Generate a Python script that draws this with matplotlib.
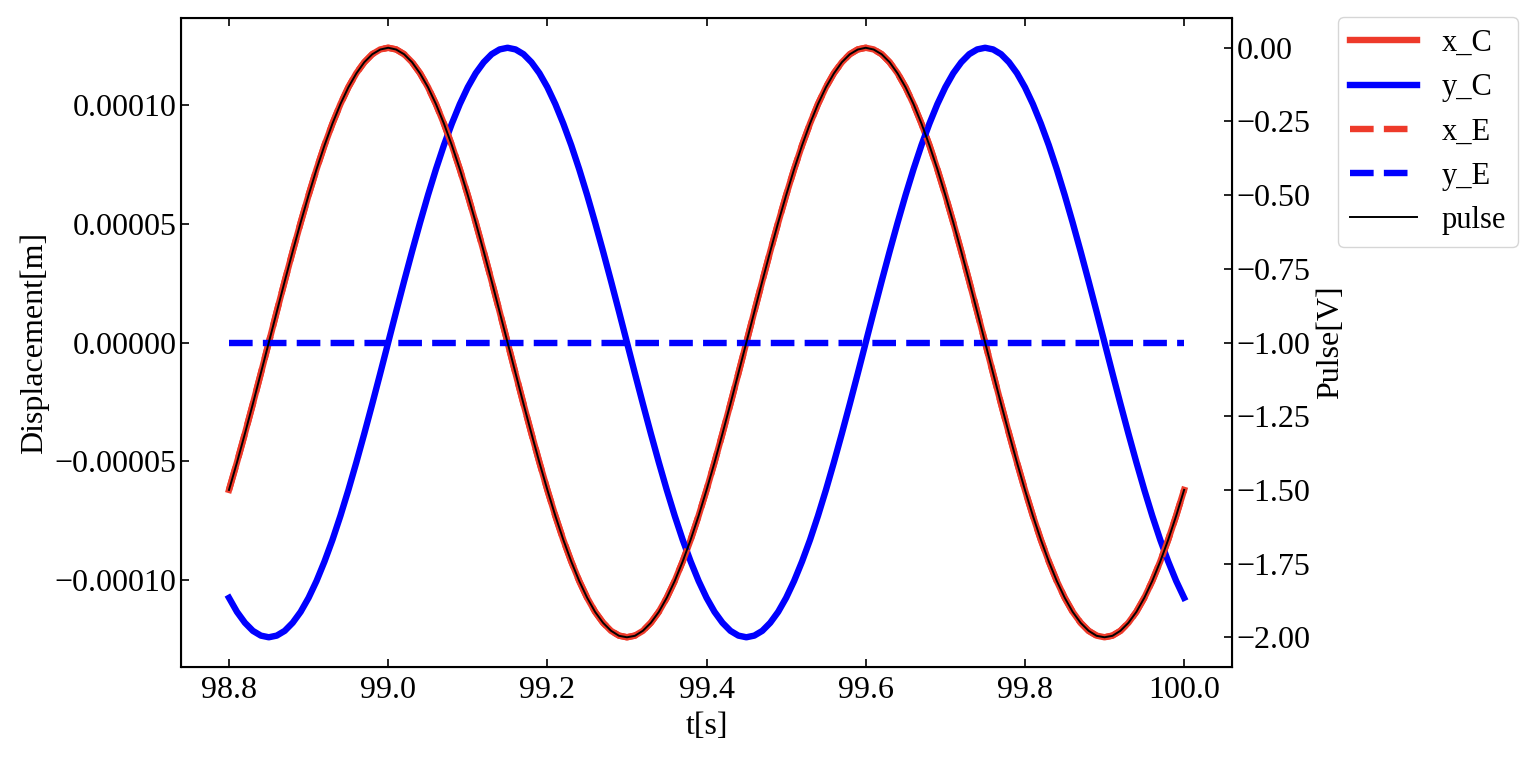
import matplotlib
matplotlib.use("Agg")
import matplotlib.pyplot as plt

plt.rcParams['font.family'] = ['Liberation Serif', 'DejaVu Serif']
plt.rcParams['xtick.direction'] = 'in'
plt.rcParams['ytick.direction'] = 'in'

t = [98.80, 98.81, 98.82, 98.83, 98.84, 98.85, 98.86, 98.87, 98.88, 98.89,
     98.90, 98.91, 98.92, 98.93, 98.94, 98.95, 98.96, 98.97, 98.98, 98.99,
     99.00, 99.01, 99.02, 99.03, 99.04, 99.05, 99.06, 99.07, 99.08, 99.09,
     99.10, 99.11, 99.12, 99.13, 99.14, 99.15, 99.16, 99.17, 99.18, 99.19,
     99.20, 99.21, 99.22, 99.23, 99.24, 99.25, 99.26, 99.27, 99.28, 99.29,
     99.30, 99.31, 99.32, 99.33, 99.34, 99.35, 99.36, 99.37, 99.38, 99.39,
     99.40, 99.41, 99.42, 99.43, 99.44, 99.45, 99.46, 99.47, 99.48, 99.49,
     99.50, 99.51, 99.52, 99.53, 99.54, 99.55, 99.56, 99.57, 99.58, 99.59,
     99.60, 99.61, 99.62, 99.63, 99.64, 99.65, 99.66, 99.67, 99.68, 99.69,
     99.70, 99.71, 99.72, 99.73, 99.74, 99.75, 99.76, 99.77, 99.78, 99.79,
     99.80, 99.81, 99.82, 99.83, 99.84, 99.85, 99.86, 99.87, 99.88, 99.89,
     99.90, 99.91, 99.92, 99.93, 99.94, 99.95, 99.96, 99.97, 99.98, 99.99,
     100.00]

# displacement values in units of 1e-4 m
x_C_e4 = [-0.620, -0.504, -0.383, -0.258, -0.130, 0.000, 0.130, 0.258, 0.383, 0.504,
          0.620, 0.729, 0.830, 0.921, 1.003, 1.074, 1.133, 1.179, 1.213, 1.233,
          1.240, 1.233, 1.213, 1.179, 1.133, 1.074, 1.003, 0.921, 0.830, 0.729,
          0.620, 0.504, 0.383, 0.258, 0.130, 0.000, -0.130, -0.258, -0.383, -0.504,
          -0.620, -0.729, -0.830, -0.921, -1.003, -1.074, -1.133, -1.179, -1.213, -1.233,
          -1.240, -1.233, -1.213, -1.179, -1.133, -1.074, -1.003, -0.921, -0.830, -0.729,
          -0.620, -0.504, -0.383, -0.258, -0.130, 0.000, 0.130, 0.258, 0.383, 0.504,
          0.620, 0.729, 0.830, 0.921, 1.003, 1.074, 1.133, 1.179, 1.213, 1.233,
          1.240, 1.233, 1.213, 1.179, 1.133, 1.074, 1.003, 0.921, 0.830, 0.729,
          0.620, 0.504, 0.383, 0.258, 0.130, 0.000, -0.130, -0.258, -0.383, -0.504,
          -0.620, -0.729, -0.830, -0.921, -1.003, -1.074, -1.133, -1.179, -1.213, -1.233,
          -1.240, -1.233, -1.213, -1.179, -1.133, -1.074, -1.003, -0.921, -0.830, -0.729,
          -0.620]

y_C_e4 = [-1.074, -1.133, -1.179, -1.213, -1.233, -1.240, -1.233, -1.213, -1.179, -1.133,
          -1.074, -1.003, -0.921, -0.830, -0.729, -0.620, -0.504, -0.383, -0.258, -0.130,
          0.000, 0.130, 0.258, 0.383, 0.504, 0.620, 0.729, 0.830, 0.921, 1.003,
          1.074, 1.133, 1.179, 1.213, 1.233, 1.240, 1.233, 1.213, 1.179, 1.133,
          1.074, 1.003, 0.921, 0.830, 0.729, 0.620, 0.504, 0.383, 0.258, 0.130,
          0.000, -0.130, -0.258, -0.383, -0.504, -0.620, -0.729, -0.830, -0.921, -1.003,
          -1.074, -1.133, -1.179, -1.213, -1.233, -1.240, -1.233, -1.213, -1.179, -1.133,
          -1.074, -1.003, -0.921, -0.830, -0.729, -0.620, -0.504, -0.383, -0.258, -0.130,
          0.000, 0.130, 0.258, 0.383, 0.504, 0.620, 0.729, 0.830, 0.921, 1.003,
          1.074, 1.133, 1.179, 1.213, 1.233, 1.240, 1.233, 1.213, 1.179, 1.133,
          1.074, 1.003, 0.921, 0.830, 0.729, 0.620, 0.504, 0.383, 0.258, 0.130,
          0.000, -0.130, -0.258, -0.383, -0.504, -0.620, -0.729, -0.830, -0.921, -1.003,
          -1.074]

x_E_e4 = list(x_C_e4)
y_E_e4 = [0.0] * len(t)

pulse = [-1.500, -1.407, -1.309, -1.208, -1.104, -1.000, -0.896, -0.792, -0.691, -0.593,
         -0.500, -0.412, -0.331, -0.257, -0.191, -0.134, -0.087, -0.049, -0.022, -0.006,
         0.000, -0.006, -0.022, -0.049, -0.087, -0.134, -0.191, -0.257, -0.331, -0.412,
         -0.500, -0.593, -0.691, -0.792, -0.896, -1.000, -1.104, -1.208, -1.309, -1.407,
         -1.500, -1.588, -1.669, -1.743, -1.809, -1.866, -1.914, -1.951, -1.978, -1.995,
         -2.000, -1.995, -1.978, -1.951, -1.914, -1.866, -1.809, -1.743, -1.669, -1.588,
         -1.500, -1.407, -1.309, -1.208, -1.104, -1.000, -0.896, -0.792, -0.691, -0.593,
         -0.500, -0.412, -0.331, -0.257, -0.191, -0.134, -0.087, -0.049, -0.022, -0.006,
         0.000, -0.006, -0.022, -0.049, -0.087, -0.134, -0.191, -0.257, -0.331, -0.412,
         -0.500, -0.593, -0.691, -0.792, -0.896, -1.000, -1.104, -1.208, -1.309, -1.407,
         -1.500, -1.588, -1.669, -1.743, -1.809, -1.866, -1.914, -1.951, -1.978, -1.995,
         -2.000, -1.995, -1.978, -1.951, -1.914, -1.866, -1.809, -1.743, -1.669, -1.588,
         -1.500]

SCALE = 1e-4
x_C = [v * SCALE for v in x_C_e4]
y_C = [v * SCALE for v in y_C_e4]
x_E = [v * SCALE for v in x_E_e4]
y_E = [v * SCALE for v in y_E_e4]

RED = '#ee3a2a'
BLUE = '#0000ff'

fig = plt.figure(figsize=(15.36, 7.62), dpi=100)
ax = fig.add_axes([0.118, 0.125, 0.684, 0.851])
ax2 = ax.twinx()

l1, = ax.plot(t, x_C, color=RED, lw=4.6, label='x_C')
l2, = ax.plot(t, y_C, color=BLUE, lw=4.6, label='y_C')
l3, = ax.plot(t, x_E, color=RED, lw=4.6, ls='--', label='x_E')
l4, = ax.plot(t, y_E, color=BLUE, lw=4.6, ls='--', label='y_E')
l5, = ax2.plot(t, pulse, color='black', lw=1.4, label='pulse')

fs = 23
ax.set_xlabel('t[s]', fontsize=fs, labelpad=5)
ax.set_ylabel('Displacement[m]', fontsize=fs)
ax2.set_ylabel('Pulse[V]', fontsize=fs)

ax.set_xticks([98.8, 99.0, 99.2, 99.4, 99.6, 99.8, 100.0])
ax.set_xticklabels(['98.8', '99.0', '99.2', '99.4', '99.6', '99.8', '100.0'])
ax.set_yticks([-1e-4, -0.5e-4, 0.0, 0.5e-4, 1e-4])
ax.set_yticklabels(['\u22120.00010', '\u22120.00005', '0.00000', '0.00005', '0.00010'])
p_ticks = [0.0, -0.25, -0.5, -0.75, -1.0, -1.25, -1.5, -1.75, -2.0]
ax2.set_yticks(p_ticks)
ax2.set_yticklabels([('\u2212' if v < 0 else '') + f'{abs(v):.2f}' for v in p_ticks])

ax.tick_params(axis='both', labelsize=fs, length=6, width=1.2, top=True, right=False)
ax.tick_params(axis='x', pad=6.5)
ax2.tick_params(axis='y', labelsize=fs, length=6, width=1.2)
for sp in ax.spines.values():
    sp.set_linewidth(1.5)

fig.legend(handles=[l1, l2, l3, l4, l5], loc='upper left',
           bbox_to_anchor=(0.871, 0.978), fontsize=22, borderaxespad=0,
           handlelength=2.2)

fig.savefig('out.png', dpi=100)
